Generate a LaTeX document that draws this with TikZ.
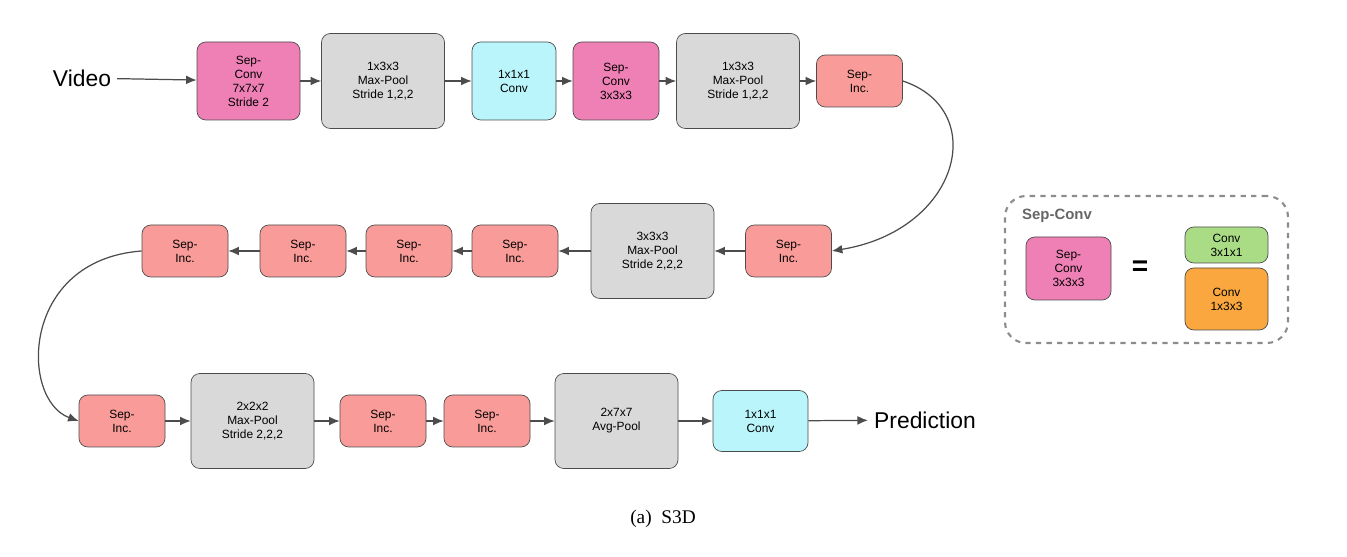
\documentclass[tikz,border=0pt]{standalone}
\usepackage{fontspec}
\setmainfont{Liberation Sans}
\newfontfamily\capfont{Liberation Serif}
\usetikzlibrary{arrows.meta}
\definecolor{sepconv}{HTML}{EF80B5}
\definecolor{pool}{HTML}{D9D9D9}
\definecolor{conv}{HTML}{BBF5FC}
\definecolor{sepinc}{HTML}{F99B98}
\definecolor{cgreen}{HTML}{AADC86}
\definecolor{corange}{HTML}{F9A73E}
\tikzset{
    blk/.style 2 args={
        draw=black!70,
        rounded corners=5pt,
        align=center,
        inner sep=0pt,
        font=\fontsize{6.8}{8}\selectfont,
        minimum width=#1*0.02cm,
        minimum height=#2*0.02cm
        },
    pinkb/.style={blk={85}{63}, fill=sepconv},
    poolb/.style={blk={123}{95}, fill=pool},
    incb/.style={blk={86}{52}, fill=sepinc},
    flow/.style={-{Latex[length=6pt,width=5pt]}, draw=black!70, line width=0.7pt}
}
\begin{document}
\begin{tikzpicture}[x=0.02cm, y=-0.02cm]
\useasboundingbox (0,0) rectangle (1347,557);

% Row 1
\node[font=\fontsize{13}{15}\selectfont] (video) at (82,78) {Video};
\node[blk={103}{78}, fill=sepconv] (sc1) at (248.5,81) {Sep-\\Conv\\7x7x7\\Stride 2};
\node[poolb] (mp1) at (383,81) {1x3x3\\Max-Pool\\Stride 1,2,2};
\node[blk={84}{78}, fill=conv] (cv1) at (514,81) {1x1x1\\Conv};
\node[blk={86}{78}, fill=sepconv] (sc2) at (616,81) {Sep-\\Conv\\3x3x3};
\node[poolb] (mp2) at (738,81) {1x3x3\\Max-Pool\\Stride 1,2,2};
\node[incb] (in1) at (859.5,81) {Sep-\\Inc.};

% Row 2
\node[incb] (in2) at (788.5,251) {Sep-\\Inc.};
\node[poolb] (mp3) at (652.5,251) {3x3x3\\Max-Pool\\Stride 2,2,2};
\node[incb] (in3) at (515,251) {Sep-\\Inc.};
\node[incb] (in4) at (409,251) {Sep-\\Inc.};
\node[incb] (in5) at (303,251) {Sep-\\Inc.};
\node[incb] (in6) at (185,251) {Sep-\\Inc.};

% Row 3
\node[incb] (in7) at (122,421) {Sep-\\Inc.};
\node[poolb] (mp4) at (252.5,421) {2x2x2\\Max-Pool\\Stride 2,2,2};
\node[incb] (in8) at (383,421) {Sep-\\Inc.};
\node[incb] (in9) at (487,421) {Sep-\\Inc.};
\node[poolb] (ap) at (616.5,421) {2x7x7\\Avg-Pool};
\node[blk={95}{61}, fill=conv] (cv2) at (760.5,421) {1x1x1\\Conv};
\node[font=\fontsize{13}{15}\selectfont, anchor=west] (pred) at (868,420) {Prediction};

% Arrows
\draw[flow] (video) -- (sc1);
\draw[flow] (sc1) -- (mp1);
\draw[flow] (mp1) -- (cv1);
\draw[flow] (cv1) -- (sc2);
\draw[flow] (sc2) -- (mp2);
\draw[flow] (mp2) -- (in1);
\draw[flow] (in1.east) .. controls (990,110) and (960,230) .. (in2.east);
\draw[flow] (in2) -- (mp3);
\draw[flow] (mp3) -- (in3);
\draw[flow] (in3) -- (in4);
\draw[flow] (in4) -- (in5);
\draw[flow] (in5) -- (in6);
\draw[flow] (in6.west) .. controls (20,260) and (20,400) .. (in7.west);
\draw[flow] (in7) -- (mp4);
\draw[flow] (mp4) -- (in8);
\draw[flow] (in8) -- (in9);
\draw[flow] (in9) -- (ap);
\draw[flow] (ap) -- (cv2);
\draw[flow] (cv2) -- (pred);

% Legend
\node[draw=black!45, dashed, line width=1.2pt, rounded corners=12pt,
      minimum width=283*0.02cm, minimum height=147*0.02cm] (legend) at (1146.5,269.5) {};
\node[anchor=west, text=black!60, font=\bfseries\fontsize{8.5}{10}\selectfont] (lgtitle) at (1016,216) {Sep-Conv};
\node[pinkb] (lgsc) at (1068.5,268.5) {Sep-\\Conv\\3x3x3};
\node[font=\bfseries\fontsize{16}{18}\selectfont] (eq) at (1140,268) {=};
\node[blk={83}{36}, fill=cgreen] (lgc1) at (1226.5,245) {Conv\\3x1x1};
\node[blk={83}{62}, fill=corange] (lgc2) at (1226.5,299) {Conv\\1x3x3};

% Caption
\node[font=\capfont\fontsize{11}{13}\selectfont] (cap) at (663,519) {(a)\ \ S3D};
\end{tikzpicture}
\end{document}
